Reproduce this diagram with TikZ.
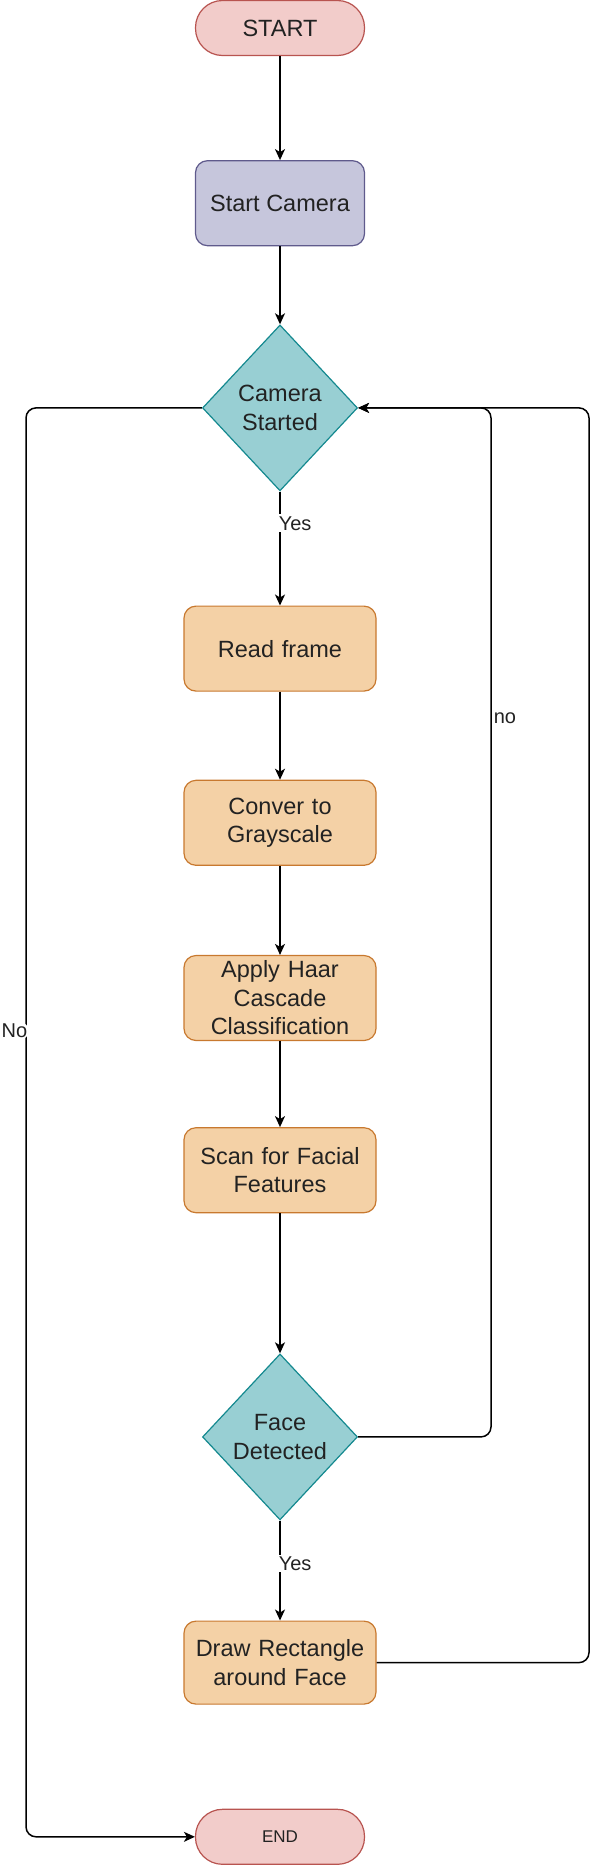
\documentclass[tikz,border=0pt]{standalone}
\usepackage{fontspec}
\setmainfont{Liberation Sans}
\usetikzlibrary{arrows.meta,positioning,shapes.geometric}

\definecolor{termfill}{HTML}{F2CCCA}
\definecolor{termline}{HTML}{B85450}
\definecolor{camfill}{HTML}{C6C6DC}
\definecolor{camline}{HTML}{5F5A8C}
\definecolor{decfill}{HTML}{98CFD3}
\definecolor{decline}{HTML}{14898F}
\definecolor{procfill}{HTML}{F4D1A6}
\definecolor{procline}{HTML}{C8792F}
\definecolor{ink}{HTML}{222222}

\begin{document}
\begin{tikzpicture}[
  x=1pt,y=1pt,
  node distance=88pt,
  font=\fontsize{23.5}{28.5}\selectfont,
  text=ink,
  term/.style={draw=termline,fill=termfill,line width=1.2pt,rounded corners=27pt,minimum width=169pt,minimum height=55pt},
  cambox/.style={draw=camline,fill=camfill,line width=1.2pt,rounded corners=12pt,minimum width=169pt,minimum height=85pt},
  box/.style={draw=procline,fill=procfill,line width=1.2pt,rounded corners=12pt,minimum width=192pt,minimum height=85pt,inner sep=2pt,align=center,text width=188pt},
  dec/.style={diamond,draw=decline,fill=decfill,line width=1.2pt,minimum width=155pt,minimum height=166pt,inner sep=0pt,align=center},
  lbl/.style={fill=white,inner sep=2pt,font=\fontsize{20}{24}\selectfont},
  every edge/.style={draw,line width=1.5pt,-{Stealth[length=11pt,width=10pt,inset=3pt]}}
]
  \useasboundingbox (0,0) rectangle (591,-1866);
  \node[term] (start) at (280,-28) {START};
  \node[cambox,below=104pt of start] (cam) {Start Camera};
  \node[dec,below=78pt of cam] (cs) {Camera\\Started};
  \node[box,below=114pt of cs] (read) {Read frame};
  \node[box,below=of read] (gray) {Conver to\\Grayscale};
  \node[box,below=89pt of gray] (haar) {Apply Haar\\Cascade\\Classification};
  \node[box,below=86pt of haar] (scan) {Scan for Facial\\Features};
  \node[dec,below=140pt of scan] (fd) {Face\\Detected};
  \node[box,below=100pt of fd,minimum height=83pt] (rect) {Draw Rectangle\\around Face};
  \node[term,below=104pt of rect,font=\fontsize{17}{20}\selectfont] (end) {END};
  \coordinate (lft) at (26,0);
  \coordinate (rin) at (491,0);
  \coordinate (rout) at (589,0);
  \path (start) edge (cam);
  \path (cam) edge (cs);
  \path (cs) edge node[lbl,pos=0.28,anchor=west,xshift=-4pt]{Yes} (read);
  \path (read) edge (gray);
  \path (gray) edge (haar);
  \path (haar) edge (scan);
  \path (scan) edge (fd);
  \path (fd) edge node[lbl,pos=0.43,anchor=west,xshift=-4pt]{Yes} (rect);
  % loops back and exit
  \draw[line width=1.5pt,rounded corners=10pt,-{Stealth[length=11pt,width=10pt,inset=3pt]}]
    (cs.west) -- (cs.west -| lft) -- node[lbl,pos=0.436,anchor=east,xshift=4pt]{No} (end.west -| lft) -- (end.west);
  \draw[line width=1.5pt,rounded corners=10pt,-{Stealth[length=11pt,width=10pt,inset=3pt]}]
    (fd.east) -- (fd.east -| rin) -- node[pos=0.698,anchor=west,inner sep=2pt,font=\fontsize{20}{24}\selectfont]{no} (cs.east -| rin) -- (cs.east);
  \draw[line width=1.5pt,rounded corners=10pt,-{Stealth[length=11pt,width=10pt,inset=3pt]}]
    (rect.east) -- (rect.east -| rout) -- (cs.east -| rout) -- (cs.east);
\end{tikzpicture}
\end{document}
